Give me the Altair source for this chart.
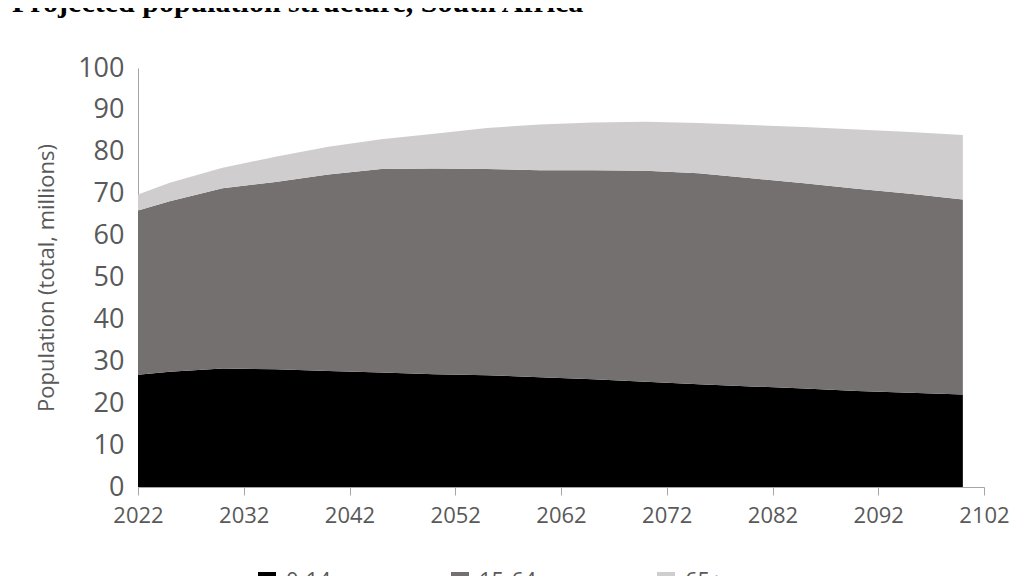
import altair as alt
import pandas as pd

years = [2022, 2025, 2030, 2035, 2040, 2045, 2050, 2055, 2060, 2065, 2070,
         2075, 2080, 2085, 2090, 2095, 2100]
age_0_14 = [26.8, 27.5, 28.3, 28.1, 27.7, 27.3, 26.9, 26.7, 26.2, 25.7, 25.1,
            24.5, 24.0, 23.5, 22.9, 22.5, 22.1]
age_15_64 = [39.2, 40.7, 43.0, 44.7, 46.9, 48.6, 49.1, 49.2, 49.4, 49.9, 50.4,
             50.4, 49.7, 49.0, 48.3, 47.5, 46.5]
age_65 = [3.8, 4.4, 4.9, 6.0, 6.6, 7.1, 8.3, 9.8, 10.9, 11.4, 11.7,
          12.0, 12.7, 13.4, 14.1, 14.7, 15.4]

groups = ["0-14 years", "15-64 years", "65+ years"]
colors = ["#000000", "#757070", "#d0cdce"]
x_ticks = [2022, 2032, 2042, 2052, 2062, 2072, 2082, 2092, 2102]
y_ticks = [0, 10, 20, 30, 40, 50, 60, 70, 80, 90, 100]

rows = []
for i, y in enumerate(years):
    for k, (g, vals) in enumerate(zip(groups, [age_0_14, age_15_64, age_65])):
        rows.append({"year": y, "group": g, "value": vals[i], "ord": k})
df = pd.DataFrame(rows)

chart = alt.Chart(df).mark_area(opacity=1).encode(
    x=alt.X("year:Q",
            scale=alt.Scale(domain=[2022, 2102], nice=False, zero=False),
            axis=alt.Axis(values=x_ticks, format="d", title=None, grid=False,
                          ticks=True, tickSize=8, tickColor="#a6a6a6",
                          domainColor="#a6a6a6", labelFontSize=22,
                          labelColor="#595959", labelPadding=10,
                          labelFlush=False, labelFont="Open Sans")),
    y=alt.Y("value:Q", stack="zero",
            scale=alt.Scale(domain=[0, 100], nice=False),
            axis=alt.Axis(values=y_ticks, title="Population (total, millions)",
                          grid=False, ticks=False, domainColor="#a6a6a6",
                          labelFontSize=27, labelColor="#595959",
                          labelPadding=14, labelFont="Open Sans",
                          titleFontSize=22, titleColor="#595959",
                          titleFont="Open Sans", titleFontWeight="normal",
                          titlePadding=19)),
    color=alt.Color("group:N",
                    scale=alt.Scale(domain=groups, range=colors),
                    legend=alt.Legend(title=None, orient="none",
                                      direction="horizontal",
                                      legendX=118, legendY=502,
                                      symbolType="square", symbolSize=324,
                                      symbolStrokeWidth=0, symbolOpacity=1,
                                      labelFontSize=22, labelColor="#595959",
                                      labelFont="Open Sans", labelOffset=8,
                                      columnPadding=57, padding=0)),
    order=alt.Order("ord:Q", sort="ascending"),
).properties(
    width=846,
    height=419,
    title=alt.Title("Projected population structure, South Africa",
                    anchor="start", frame="group", dx=-126, offset=36,
                    font="Liberation Serif", fontSize=30, fontWeight="bold",
                    color="#000000"),
    autosize=alt.AutoSizeParams(type="none"),
    padding={"left": 130, "top": 60, "right": 30, "bottom": 89},
).configure_view(stroke=None)

chart.save("out.html", embed_options={"renderer": "svg", "actions": False})
